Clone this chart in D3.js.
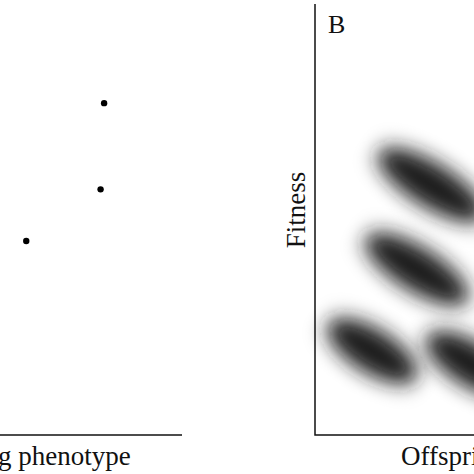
<!DOCTYPE html>
<html><head><meta charset="utf-8">
<script src="https://cdn.jsdelivr.net/npm/d3@7"></script>
<style>body{margin:0;background:#fff}</style>
</head><body>
<div id="chart"></div>
<script>
// panel A points (phenotype, fitness)
const pointsX = [1.2, 5.4, 5.6];
const pointsY = [4.5, 5.7, 7.7];
// panel B fitness blobs (offspring phenotype, fitness, spread)
const blobX = [7.3, 6.4, 3.6, 9.8];
const blobY = [5.8, 3.85, 1.95, 1.65];
const blobRx = [62, 60, 52, 52];
const blobRy = [22, 22, 22, 22];

const W = 474, H = 474;
const svg = d3.select("#chart").append("svg").attr("width", W).attr("height", H);
const defs = svg.append("defs");
defs.append("filter").attr("id", "blur").attr("x", "-50%").attr("y", "-80%")
  .attr("width", "200%").attr("height", "260%")
  .append("feGaussianBlur").attr("stdDeviation", 10);

const font = "'Liberation Serif','DejaVu Serif',serif";

// Panel A
const xA = d3.scaleLinear().domain([0, 10]).range([5, 182]);
const yA = d3.scaleLinear().domain([0, 10]).range([435, 4]);
svg.append("line").attr("x1", 0).attr("x2", 182).attr("y1", 435).attr("y2", 435)
  .attr("stroke", "#111").attr("stroke-width", 1.5);
svg.selectAll("circle.pt").data(pointsX).enter().append("circle")
  .attr("class", "pt")
  .attr("cx", (d, i) => xA(d)).attr("cy", (d, i) => yA(pointsY[i]))
  .attr("r", 3.2).attr("fill", "#000");
svg.append("text").attr("x", -2).attr("y", 465).attr("font-family", font)
  .attr("font-size", 27).attr("fill", "#111").text("g phenotype");

// Panel B
const xB = d3.scaleLinear().domain([0, 10]).range([315, 474]);
const yB = d3.scaleLinear().domain([0, 10]).range([435, 4]);
svg.selectAll("ellipse.blob").data(blobX).enter().append("ellipse")
  .attr("class", "blob")
  .attr("transform", (d, i) => `translate(${xB(d)},${yB(blobY[i])}) rotate(32)`)
  .attr("rx", (d, i) => blobRx[i]).attr("ry", (d, i) => blobRy[i])
  .attr("fill", "#1e1e1e").attr("filter", "url(#blur)");
svg.append("path").attr("d", `M315,4V435H474`).attr("fill", "none")
  .attr("stroke", "#111").attr("stroke-width", 1.5);
svg.append("text").attr("x", 328).attr("y", 33).attr("font-family", font)
  .attr("font-size", 26).attr("fill", "#111").text("B");
svg.append("text").attr("transform", "translate(305,210) rotate(-90)")
  .attr("text-anchor", "middle").attr("font-family", font)
  .attr("font-size", 27).attr("fill", "#111").text("Fitness");
svg.append("text").attr("x", 401).attr("y", 465).attr("font-family", font)
  .attr("font-size", 27).attr("fill", "#111").text("Offspring phenotype");
</script>
</body></html>
